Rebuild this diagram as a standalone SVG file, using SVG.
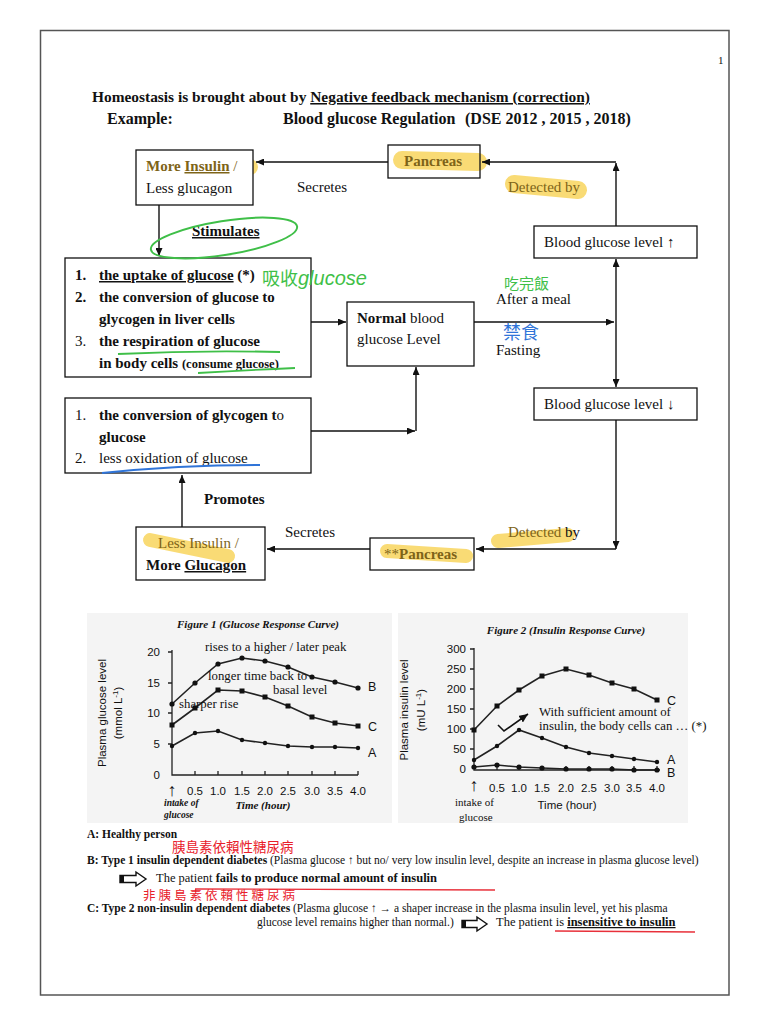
<svg xmlns="http://www.w3.org/2000/svg" width="768" height="1024" viewBox="0 0 768 1024">
<defs>
<marker id="ah" markerWidth="8" markerHeight="7" refX="8" refY="3.5" orient="auto" markerUnits="userSpaceOnUse"><path d="M0,0 L8,3.5 L0,7 z" fill="#111"/></marker>
<marker id="ah2" markerWidth="9" markerHeight="8" refX="9" refY="4" orient="auto" markerUnits="userSpaceOnUse"><path d="M0,0 L9,4 L0,8 z" fill="#111"/></marker>
<style>
text{font-family:"Liberation Serif","Times New Roman",serif;fill:#111;font-size:15px}
.b{font-weight:bold}
.h{font-size:16px;font-weight:bold}
.box{fill:#fff;stroke:#111;stroke-width:1.3}
.con{fill:none;stroke:#111;stroke-width:1.4}
.hl{fill:none;stroke:#f6cc3a;stroke-opacity:.7;stroke-linecap:round}
.gold{fill:#7e6418}
.sans{font-family:"Liberation Sans",Arial,sans-serif;font-size:11.5px}
.ann{font-size:12.8px}
.cur{fill:none;stroke:#222;stroke-width:1.6}
.ax{fill:none;stroke:#222;stroke-width:1.3}
.ital{font-style:italic;font-weight:bold;font-size:11px}
.hand{font-family:"Noto Sans CJK TC","Noto Sans CJK SC",sans-serif}
.small{font-size:11.5px}
</style>
</defs>
<rect x="0" y="0" width="768" height="1024" fill="#fff"/>
<rect x="40.5" y="30.5" width="688.5" height="964.5" fill="none" stroke="#555" stroke-width="1.5"/>
<text x="718" y="64" style="font-size:11px">1</text>

<!-- header -->
<text class="h" x="92" y="102" style="font-size:15.4px">Homeostasis is brought about by <tspan text-decoration="underline">Negative feedback mechanism (correction)</tspan></text>
<text class="h" x="107" y="124">Example:</text>
<text class="h" x="283" y="124">Blood glucose Regulation</text>
<text class="h" x="465" y="124">(DSE 2012 , 2015 , 2018)</text>

<!-- highlights -->
<path class="hl" d="M144,166 L250,167" stroke-width="16"/>
<path class="hl" d="M402,160 L478,162" stroke-width="18"/>
<path class="hl" d="M514,184 L578,190" stroke-width="18"/>
<path class="hl" d="M150,540 L228,556" stroke-width="14"/>
<path class="hl" d="M387,551 L466,556" stroke-width="14"/>
<path class="hl" d="M498,541 L568,535" stroke-width="14"/>

<!-- connectors -->
<g id="connectors">
<path class="con" d="M388,162 H256" marker-end="url(#ah)"/>
<path class="con" d="M616,226 V163" marker-end="url(#ah)"/>
<path class="con" d="M616,162 H482" marker-end="url(#ah)"/>
<path class="con" d="M159,205 V256" marker-end="url(#ah)"/>
<path class="con" d="M311,322 H346" marker-end="url(#ah)"/>
<path class="con" d="M474,322 H614" marker-end="url(#ah)"/>
<path class="con" d="M616,322 V259" marker-end="url(#ah)"/>
<path class="con" d="M616,322 V387" marker-end="url(#ah)"/>
<path class="con" d="M616,420 V549" marker-end="url(#ah)"/>
<path class="con" d="M616,549 H476" marker-end="url(#ah)"/>
<path class="con" d="M370,549 H267" marker-end="url(#ah)"/>
<path class="con" d="M182,527 V475" marker-end="url(#ah)"/>
<path class="con" d="M311,431 H415" marker-end="url(#ah)"/>
<path class="con" d="M416,431 V367" marker-end="url(#ah)"/>
<text x="297" y="192">Secretes</text>
<text x="508" y="192" class="gold">Detected by</text>
<text class="b" x="192" y="236" text-decoration="underline">Stimulates</text>
<text x="496" y="304">After a meal</text>
<text x="496" y="355">Fasting</text>
<text class="b" x="204" y="504">Promotes</text>
<text x="285" y="537">Secretes</text>
<text x="508" y="537"><tspan class="gold">Detected</tspan> by</text>
</g>

<g id="more-insulin">
<rect class="box" x="136" y="150" width="117" height="55"/>
<text class="b gold" x="146" y="171">More <tspan text-decoration="underline">Insulin</tspan> <tspan font-weight="normal">/</tspan></text>
<text x="146" y="193">Less glucagon</text>
</g>

<g id="pancreas-top">
<rect class="box" x="388" y="145" width="92" height="33" fill-opacity="0"/>
<text class="b gold" x="404" y="166">Pancreas</text>
</g>

<g id="bg-high">
<rect class="box" x="534" y="226" width="163" height="32"/>
<text x="544" y="247">Blood glucose level ↑</text>
</g>

<g id="bg-low">
<rect class="box" x="534" y="388" width="163" height="32"/>
<text x="544" y="409">Blood glucose level ↓</text>
</g>

<g id="normal">
<rect class="box" x="347" y="302" width="127" height="64"/>
<text x="357" y="323"><tspan class="b">Normal</tspan> blood</text>
<text x="357" y="344">glucose Level</text>
</g>

<g id="effects-insulin">
<rect class="box" x="65" y="258" width="246" height="119"/>
<text class="b" x="75" y="280">1.<tspan x="99" text-decoration="underline">the uptake of glucose</tspan> (*)</text>
<text class="b" x="75" y="302">2.<tspan x="99">the conversion of glucose to</tspan></text>
<text class="b" x="99" y="324">glycogen in liver cells</text>
<text x="75" y="346">3.<tspan x="99" font-weight="bold">the respiration of glucose</tspan></text>
<text class="b" x="99" y="368">in body cells <tspan font-size="12.5">(consume glucose)</tspan></text>
</g>

<g id="effects-glucagon">
<rect class="box" x="65" y="398" width="246" height="75"/>
<text x="75" y="420">1.<tspan x="99" font-weight="bold">the conversion of glycogen t</tspan>o</text>
<text class="b" x="99" y="442">glucose</text>
<text x="75" y="463">2.<tspan x="99">less oxidation of glucose</tspan></text>
</g>

<g id="less-insulin">
<rect class="box" x="136" y="527" width="129" height="53" fill-opacity="0"/>
<text x="158" y="548" class="gold">Less Insulin /</text>
<text class="b" x="146" y="570">More <tspan text-decoration="underline">Glucagon</tspan></text>
</g>

<g id="pancreas-bottom">
<rect class="box" x="370" y="538" width="104" height="32" fill-opacity="0"/>
<text class="b gold" x="384" y="559"><tspan font-weight="normal">**</tspan>Pancreas</text>
</g>

<!-- handwritten annotations -->
<ellipse cx="224" cy="238" rx="74" ry="17" transform="rotate(-9 224 238)" fill="none" stroke="#3fbf48" stroke-width="2"/>
<text class="hand" x="262" y="285" style="fill:#3fbf48;font-size:18px">吸收<tspan style="font-family:'Liberation Sans',sans-serif;font-style:italic;font-size:20px">glucose</tspan></text>
<text class="hand" x="504" y="289" style="fill:#3fbf48;font-size:15px">吃完飯</text>
<text class="hand" x="503" y="339" style="fill:#2f74d8;font-size:18px">禁食</text>
<path d="M118,354 Q200,350 280,352" fill="none" stroke="#3fbf48" stroke-width="1.8"/>
<path d="M198,373 Q250,370 295,368" fill="none" stroke="#3fbf48" stroke-width="1.8"/>
<path d="M102,473 Q180,465 260,465" fill="none" stroke="#2f74d8" stroke-width="2"/>

<!-- Figure 1 -->
<g id="figure1">
<rect x="87" y="613" width="305" height="210" fill="#f4f4f4"/>
<text class="ital" x="258" y="628" text-anchor="middle">Figure 1 (Glucose Response Curve)</text>
<path class="ax" d="M172,650 V775 H358"/>
<path class="ax" d="M168,652 H172 M168,683 H172 M168,713 H172 M168,744 H172 M195,775 V771 M218,775 V771 M242,775 V771 M265,775 V771 M288,775 V771 M312,775 V771 M335,775 V771 M358,775 V771"/>
<text class="sans" x="160" y="656" text-anchor="end">20</text>
<text class="sans" x="160" y="687" text-anchor="end">15</text>
<text class="sans" x="160" y="717" text-anchor="end">10</text>
<text class="sans" x="160" y="748" text-anchor="end">5</text>
<text class="sans" x="160" y="779" text-anchor="end">0</text>
<text class="sans" x="195" y="795" text-anchor="middle">0.5</text>
<text class="sans" x="218" y="795" text-anchor="middle">1.0</text>
<text class="sans" x="242" y="795" text-anchor="middle">1.5</text>
<text class="sans" x="265" y="795" text-anchor="middle">2.0</text>
<text class="sans" x="288" y="795" text-anchor="middle">2.5</text>
<text class="sans" x="312" y="795" text-anchor="middle">3.0</text>
<text class="sans" x="335" y="795" text-anchor="middle">3.5</text>
<text class="sans" x="358" y="795" text-anchor="middle">4.0</text>
<text x="172" y="796" text-anchor="middle" style="font-size:18px">↑</text>
<text class="ital" x="164" y="806" style="font-size:9.5px">intake of</text>
<text class="ital" x="164" y="818" style="font-size:9.5px">glucose</text>
<text class="ital" x="263" y="809" text-anchor="middle">Time (hour)</text>
<text class="sans" transform="translate(106 713) rotate(-90)" text-anchor="middle">Plasma glucose level</text>
<text class="sans" transform="translate(122 713) rotate(-90)" text-anchor="middle">(mmol L<tspan dy="-4" font-size="8">-1</tspan><tspan dy="4">)</tspan></text>
<polyline class="cur" points="172,704 195,683 218,664 242,658 265,661 288,667 312,677 335,682 358,688"/>
<polyline class="cur" points="172,725 195,708 218,690 242,691 265,697 288,706 312,717 335,723 358,726"/>
<polyline class="cur" points="172,746 195,733 218,731 242,740 265,743 288,746 312,747 335,747 358,748"/>
<g fill="#111">
<circle cx="172" cy="704" r="2.6"/><circle cx="195" cy="683" r="2.6"/><circle cx="218" cy="664" r="2.6"/><circle cx="242" cy="658" r="2.6"/><circle cx="265" cy="661" r="2.6"/><circle cx="288" cy="667" r="2.6"/><circle cx="312" cy="677" r="2.6"/><circle cx="335" cy="682" r="2.6"/><circle cx="358" cy="688" r="2.6"/>
<rect x="169.5" y="722.5" width="5" height="5"/><rect x="192.5" y="705.5" width="5" height="5"/><rect x="215.5" y="687.5" width="5" height="5"/><rect x="239.5" y="688.5" width="5" height="5"/><rect x="262.5" y="694.5" width="5" height="5"/><rect x="285.5" y="703.5" width="5" height="5"/><rect x="309.5" y="714.5" width="5" height="5"/><rect x="332.5" y="720.5" width="5" height="5"/><rect x="355.5" y="723.5" width="5" height="5"/>
<circle cx="172" cy="746" r="2.2"/><circle cx="195" cy="733" r="2.2"/><circle cx="218" cy="731" r="2.2"/><circle cx="242" cy="740" r="2.2"/><circle cx="265" cy="743" r="2.2"/><circle cx="288" cy="746" r="2.2"/><circle cx="312" cy="747" r="2.2"/><circle cx="335" cy="747" r="2.2"/><circle cx="358" cy="748" r="2.2"/>
</g>
<text class="sans" x="368" y="691" style="font-size:12.5px">B</text>
<text class="sans" x="368" y="731" style="font-size:12.5px">C</text>
<text class="sans" x="368" y="757" style="font-size:12.5px">A</text>
<text class="ann" x="205" y="651">rises to a higher / later peak</text>
<text class="ann" x="208" y="680">longer time back to</text>
<text class="ann" x="273" y="694">basal level</text>
<text class="ann" x="179" y="708">sharper rise</text>
</g>

<!-- Figure 2 -->
<g id="figure2">
<rect x="398" y="613" width="290" height="210" fill="#f4f4f4"/>
<text class="ital" x="566" y="634" text-anchor="middle">Figure 2 (Insulin Response Curve)</text>
<path class="ax" d="M474,648 V770 H660"/>
<path class="ax" d="M470,649 H474 M470,669 H474 M470,689 H474 M470,709 H474 M470,729 H474 M470,749 H474 M497,770 V766 M519,770 V766 M542,770 V766 M566,770 V766 M589,770 V766 M612,770 V766 M634,770 V766 M657,770 V766"/>
<text class="sans" x="466" y="653" text-anchor="end">300</text>
<text class="sans" x="466" y="673" text-anchor="end">250</text>
<text class="sans" x="466" y="693" text-anchor="end">200</text>
<text class="sans" x="466" y="713" text-anchor="end">150</text>
<text class="sans" x="466" y="733" text-anchor="end">100</text>
<text class="sans" x="466" y="753" text-anchor="end">50</text>
<text class="sans" x="466" y="773" text-anchor="end">0</text>
<text class="sans" x="497" y="792" text-anchor="middle">0.5</text>
<text class="sans" x="519" y="792" text-anchor="middle">1.0</text>
<text class="sans" x="542" y="792" text-anchor="middle">1.5</text>
<text class="sans" x="566" y="792" text-anchor="middle">2.0</text>
<text class="sans" x="589" y="792" text-anchor="middle">2.5</text>
<text class="sans" x="612" y="792" text-anchor="middle">3.0</text>
<text class="sans" x="634" y="792" text-anchor="middle">3.5</text>
<text class="sans" x="657" y="792" text-anchor="middle">4.0</text>
<text x="474" y="791" text-anchor="middle" style="font-size:18px">↑</text>
<text x="455" y="806" style="font-size:11px">intake of</text>
<text x="459" y="821" style="font-size:11px">glucose</text>
<text class="sans" x="567" y="809" text-anchor="middle">Time (hour)</text>
<text class="sans" transform="translate(408 710) rotate(-90)" text-anchor="middle">Plasma insulin level</text>
<text class="sans" transform="translate(425 710) rotate(-90)" text-anchor="middle">(mU L<tspan dy="-4" font-size="8">-1</tspan><tspan dy="4">)</tspan></text>
<polyline class="cur" points="474,730 497,706 519,690 542,676 566,669 589,675 612,683 634,689 657,700"/>
<polyline class="cur" points="474,760 497,746 519,730 542,738 566,747 589,753 612,756 634,759 657,762"/>
<polyline class="cur" points="474,767 497,765 519,767 542,768 566,769 589,769 612,769 634,770 657,770"/>
<g fill="#111">
<rect x="471.5" y="727.5" width="5" height="5"/><rect x="494.5" y="703.5" width="5" height="5"/><rect x="516.5" y="687.5" width="5" height="5"/><rect x="539.5" y="673.5" width="5" height="5"/><rect x="563.5" y="666.5" width="5" height="5"/><rect x="586.5" y="672.5" width="5" height="5"/><rect x="609.5" y="680.5" width="5" height="5"/><rect x="631.5" y="686.5" width="5" height="5"/><rect x="654.5" y="697.5" width="5" height="5"/>
<circle cx="474" cy="760" r="2.2"/><circle cx="497" cy="746" r="2.2"/><circle cx="519" cy="730" r="2.2"/><circle cx="542" cy="738" r="2.2"/><circle cx="566" cy="747" r="2.2"/><circle cx="589" cy="753" r="2.2"/><circle cx="612" cy="756" r="2.2"/><circle cx="634" cy="759" r="2.2"/><circle cx="657" cy="762" r="2.2"/>
<circle cx="474" cy="767" r="2.6"/><circle cx="497" cy="765" r="2.6"/><circle cx="519" cy="767" r="2.6"/><circle cx="542" cy="768" r="2.6"/><circle cx="566" cy="769" r="2.6"/><circle cx="589" cy="769" r="2.6"/><circle cx="612" cy="769" r="2.6"/><circle cx="634" cy="770" r="2.6"/><circle cx="657" cy="770" r="2.6"/>
</g>
<text class="sans" x="667" y="705" style="font-size:12.5px">C</text>
<text class="sans" x="667" y="764" style="font-size:12.5px">A</text>
<text class="sans" x="667" y="777" style="font-size:12.5px">B</text>
<polyline points="498,725 504,731 528,714" fill="none" stroke="#111" stroke-width="1.6" marker-end="url(#ah2)"/>
<text class="ann" x="539" y="716">With sufficient amount of</text>
<text class="ann" x="539" y="730">insulin, the body cells can … (*)</text>
</g>

<!-- bottom notes -->
<text class="b small" x="87" y="838">A: Healthy person</text>
<text class="hand" x="172" y="852" style="fill:#e8202a;font-size:13.5px">胰島素依賴性糖尿病</text>
<text class="small" x="87" y="864"><tspan font-weight="bold">B: Type 1 insulin dependent diabetes</tspan> (Plasma glucose ↑ but no/ very low insulin level, despite an increase in plasma glucose level)</text>
<path d="M120,875.5 H136 V872 L146,879 L136,886 V882.5 H120 Z" fill="#fff" stroke="#111" stroke-width="1.4"/>
<rect x="120" y="875.5" width="4" height="7" fill="#111"/>
<text class="small" x="156" y="882" style="font-size:12.5px">The patient <tspan font-weight="bold">fails to produce normal amount of insulin</tspan></text>
<path d="M195,889 L495,890" stroke="#e8303a" stroke-width="1.3"/>
<text class="hand" x="143" y="900" style="fill:#e8202a;font-size:12.5px;letter-spacing:3px">非胰島素依賴性糖尿病</text>
<text class="small" x="87" y="912"><tspan font-weight="bold">C: Type 2 non-insulin dependent diabetes</tspan> (Plasma glucose ↑ → a shaper increase in the plasma insulin level, yet his plasma</text>
<text class="small" x="257" y="926">glucose level remains higher than normal.)</text>
<path d="M462,920.5 H477 V917 L487,924 L477,931 V927.5 H462 Z" fill="#fff" stroke="#111" stroke-width="1.4"/>
<rect x="462" y="920.5" width="4" height="7" fill="#111"/>
<text class="small" x="496" y="926" style="font-size:12.5px">The patient is <tspan font-weight="bold" text-decoration="underline">insensitive to insulin</tspan></text>
<path d="M555,931 L695,932" stroke="#e8303a" stroke-width="1.3"/>
</svg>
